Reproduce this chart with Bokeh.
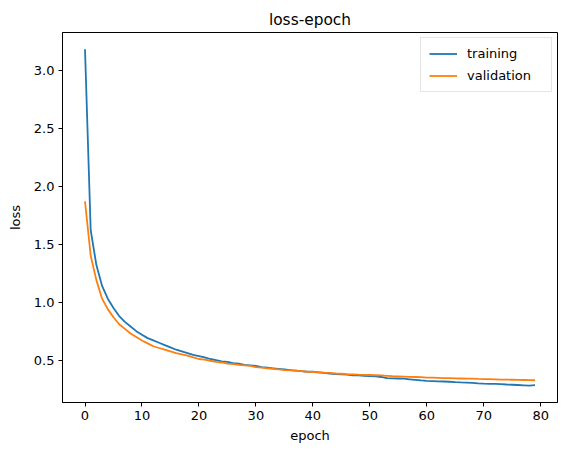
from bokeh.plotting import figure
from bokeh.models import Range1d, FixedTicker, Legend, LegendItem, CustomJSTickFormatter
from bokeh.embed import file_html
from bokeh.resources import INLINE

epochs = list(range(80))
training = [3.18, 1.62, 1.32, 1.14, 1.03, 0.95, 0.88, 0.83, 0.79, 0.75,
            0.72, 0.69, 0.67, 0.65, 0.63, 0.61, 0.59, 0.575, 0.56, 0.545,
            0.535, 0.525, 0.51, 0.50, 0.49, 0.485, 0.475, 0.47, 0.46, 0.455,
            0.45, 0.44, 0.435, 0.43, 0.425, 0.42, 0.415, 0.41, 0.405, 0.40,
            0.40, 0.395, 0.39, 0.385, 0.38, 0.378, 0.375, 0.37, 0.368, 0.365,
            0.362, 0.36, 0.355, 0.345, 0.343, 0.342, 0.34, 0.335, 0.33, 0.325,
            0.322, 0.32, 0.318, 0.316, 0.314, 0.31, 0.308, 0.307, 0.305, 0.30,
            0.297, 0.295, 0.295, 0.293, 0.29, 0.288, 0.286, 0.283, 0.28, 0.284]
validation = [1.87, 1.40, 1.19, 1.03, 0.94, 0.87, 0.81, 0.77, 0.73, 0.70,
              0.67, 0.645, 0.62, 0.605, 0.59, 0.575, 0.56, 0.55, 0.54, 0.525,
              0.51, 0.505, 0.495, 0.485, 0.48, 0.47, 0.465, 0.46, 0.455, 0.45,
              0.44, 0.435, 0.43, 0.425, 0.42, 0.415, 0.412, 0.41, 0.405, 0.40,
              0.398, 0.395, 0.392, 0.39, 0.385, 0.383, 0.38, 0.378, 0.375, 0.373,
              0.372, 0.37, 0.368, 0.365, 0.362, 0.36, 0.358, 0.356, 0.355, 0.353,
              0.35, 0.349, 0.348, 0.346, 0.345, 0.343, 0.342, 0.341, 0.34, 0.338,
              0.337, 0.336, 0.335, 0.333, 0.332, 0.331, 0.33, 0.329, 0.328, 0.327]
x_ticks = [0, 10, 20, 30, 40, 50, 60, 70, 80]
y_ticks = [0.5, 1.0, 1.5, 2.0, 2.5, 3.0]

FONT = "DejaVu Sans"

p = figure(width=559, height=447, output_backend="svg", toolbar_location=None,
           x_range=Range1d(-3.95, 82.95), y_range=Range1d(0.135, 3.325),
           min_border_left=62, min_border_right=2, min_border_top=32, min_border_bottom=45)

p.title.text = "loss-epoch"
p.title.align = "center"
p.title.text_font = FONT
p.title.text_font_size = "15.4px"
p.title.text_font_style = "normal"
p.title.text_color = "black"
p.title.standoff = 8

p.xgrid.visible = False
p.ygrid.visible = False
p.outline_line_color = "black"
p.outline_line_width = 1
p.outline_line_alpha = 1

for ax in (p.xaxis[0], p.yaxis[0]):
    ax.axis_line_color = "black"
    ax.major_tick_line_color = "black"
    ax.major_tick_out = 4
    ax.major_tick_in = 0
    ax.minor_tick_line_color = None
    ax.major_label_text_font = FONT
    ax.major_label_text_font_size = "13px"
    ax.major_label_text_color = "black"
    ax.axis_label_text_font = FONT
    ax.axis_label_text_font_size = "13px"
    ax.axis_label_text_font_style = "normal"
    ax.axis_label_text_color = "black"

p.xaxis.ticker = FixedTicker(ticks=x_ticks)
p.yaxis.ticker = FixedTicker(ticks=y_ticks)
p.yaxis.formatter = CustomJSTickFormatter(code="return tick.toFixed(1);")
p.xaxis.axis_label = "epoch"
p.yaxis.axis_label = "loss"
p.xaxis.axis_label_standoff = 5
p.yaxis.axis_label_standoff = 8
p.xaxis.major_label_standoff = 4
p.yaxis.major_label_standoff = 4

r1 = p.line(epochs, training, line_color="#1f77b4", line_width=1.8)
r2 = p.line(epochs, validation, line_color="#ff7f0e", line_width=1.8)

legend = Legend(items=[LegendItem(label="training", renderers=[r1]),
                       LegendItem(label="validation", renderers=[r2])],
                location="top_right")
legend.margin = 5
legend.padding = 8
legend.spacing = 7
legend.glyph_width = 28
legend.glyph_height = 15
legend.label_height = 15
legend.label_width = 76
legend.label_standoff = 10
legend.label_text_font = FONT
legend.label_text_font_size = "13px"
legend.label_text_color = "black"
legend.border_line_color = "#cccccc"
legend.border_line_width = 1
legend.background_fill_alpha = 0.8
p.add_layout(legend)

open("out.html", "w").write(file_html(p, INLINE))
